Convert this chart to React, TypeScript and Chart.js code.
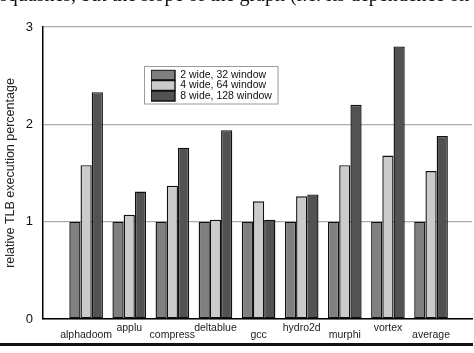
import React, { useEffect, useRef } from 'react';
import { Chart, registerables } from 'chart.js';

Chart.register(...registerables);

const categories = ['alphadoom', 'applu', 'compress', 'deltablue', 'gcc', 'hydro2d', 'murphi', 'vortex', 'average'];
const seriesLabels = ['2 wide, 32 window', '4 wide, 64 window', '8 wide, 128 window'];
const wide2 = [1, 1, 1, 1, 1, 1, 1, 1, 1];
const wide4 = [1.58, 1.07, 1.37, 1.02, 1.21, 1.26, 1.58, 1.68, 1.52];
const wide8 = [2.33, 1.31, 1.76, 1.94, 1.02, 1.28, 2.2, 2.8, 1.88];
const seriesColors = ['#808080', '#cbcbcb', '#525252'];
const yTicks = [0, 1, 2, 3];
const yTitle = 'relative TLB execution percentage';
const topText = 'squashes, but the slope of the graph (i.e. its dependence on';

const FONT = "'Liberation Sans', Arial, Helvetica, sans-serif";
const LEGEND_FONT_SIZE = 10.5;
const LEGEND_BOX_W = 24;

const legendPlacer = {
  id: 'legendPlacer',
  afterUpdate(chart: any) {
    const lg = chart.legend;
    if (!lg) return;
    const w = lg.width;
    const h = lg.height;
    lg.left = 151;
    lg.top = 69.75;
    lg.right = lg.left + w + 40;
    lg.bottom = lg.top + h;
    lg.adjustHitBoxes();
  },
  afterDraw(chart: any) {
    const lg = chart.legend;
    if (!lg || !lg.legendItems) return;
    const ctx = chart.ctx;
    ctx.save();
    ctx.font = `${LEGEND_FONT_SIZE}px ${FONT}`;
    let tw = 0;
    lg.legendItems.forEach((it: any) => {
      tw = Math.max(tw, ctx.measureText(it.text).width);
    });
    const n = lg.legendItems.length;
    const itemH = Math.max(LEGEND_FONT_SIZE, 10);
    const r = lg.left + LEGEND_BOX_W + LEGEND_FONT_SIZE / 2 + tw + 6;
    const b = lg.top + n * itemH + 3;
    ctx.strokeStyle = '#9a9a9a';
    ctx.lineWidth = 1;
    const x0 = Math.round(lg.left - 7) + 0.5;
    const y0 = Math.round(lg.top - 4) + 0.5;
    ctx.strokeRect(x0, y0, Math.round(r) - x0, Math.round(b) - y0);
    ctx.restore();
  },
};

export default function App() {
  const ref = useRef<HTMLCanvasElement | null>(null);

  useEffect(() => {
    if (!ref.current) return;
    const series = [wide2, wide4, wide8];
    const chart = new Chart(ref.current, {
      type: 'bar',
      data: {
        datasets: series.map((vals, s) => ({
          label: seriesLabels[s],
          data: vals.map((v, i) => ({ x: i, y: v })),
          backgroundColor: seriesColors[s],
          borderColor: '#111111',
          borderWidth: 1.4,
          borderSkipped: false,
          categoryPercentage: 0.78,
          barPercentage: 1,
        })),
      },
      options: {
        animation: false,
        responsive: false,
        devicePixelRatio: 1,
        layout: { padding: { top: 27, right: 2, bottom: 12, left: 0 } },
        plugins: {
          tooltip: { enabled: false },
          legend: {
            position: 'chartArea',
            align: 'start',
            labels: {
              boxWidth: LEGEND_BOX_W,
              boxHeight: 10,
              padding: 0,
              color: '#111',
              font: { family: FONT, size: LEGEND_FONT_SIZE },
            },
          },
        },
        scales: {
          x: {
            type: 'linear',
            min: -1,
            max: 8.95,
            offset: false,
            grid: { display: false, offset: false },
            border: { display: true, color: '#000', width: 1.5 },
            afterBuildTicks: (scale: any) => {
              scale.ticks = categories.map((_, i) => ({ value: i }));
            },
            afterFit: (scale: any) => {
              scale.height = 22;
            },
            ticks: {
              autoSkip: false,
              maxRotation: 0,
              minRotation: 0,
              padding: -3,
              color: '#222',
              font: { family: FONT, size: 10.5, lineHeight: 0.7 },
              callback: (value: any) => {
                const i = Math.round(Number(value));
                const name = categories[i] ?? '';
                return i % 2 === 0 ? ['', name] : [name];
              },
            },
          },
          y: {
            min: 0,
            max: 3,
            afterBuildTicks: (scale: any) => {
              scale.ticks = yTicks.map((v) => ({ value: v }));
            },
            afterFit: (scale: any) => {
              scale.width = 43;
            },
            grid: { color: '#ababab', lineWidth: 1.2, drawTicks: false },
            border: { display: true, color: '#000', width: 1.5 },
            ticks: {
              padding: 10,
              color: '#111',
              font: { family: FONT, size: 13 },
            },
            title: {
              display: true,
              text: yTitle,
              color: '#222',
              padding: { top: 3.5, bottom: 0 },
              font: { family: FONT, size: 12.5 },
            },
          },
        },
      },
      plugins: [legendPlacer],
    } as any);
    return () => chart.destroy();
  }, []);

  return (
    <div
      style={{
        position: 'absolute',
        left: 0,
        top: 0,
        width: 474,
        height: 353,
        overflow: 'hidden',
        background: '#fff',
      }}
    >
      <canvas ref={ref} width={474} height={353} style={{ display: 'block', position: 'absolute', left: 0, top: 0 }} />
      <div
        style={{
          position: 'absolute',
          left: 0,
          top: -16,
          whiteSpace: 'nowrap',
          fontFamily: "'Liberation Serif', 'Times New Roman', serif",
          fontSize: 20,
          lineHeight: '20px',
          color: '#111',
        }}
      >
        {topText}
      </div>
      <div
        style={{
          position: 'absolute',
          left: 0,
          top: 343,
          width: 473,
          height: 2.5,
          background: '#111',
        }}
      />
    </div>
  );
}
